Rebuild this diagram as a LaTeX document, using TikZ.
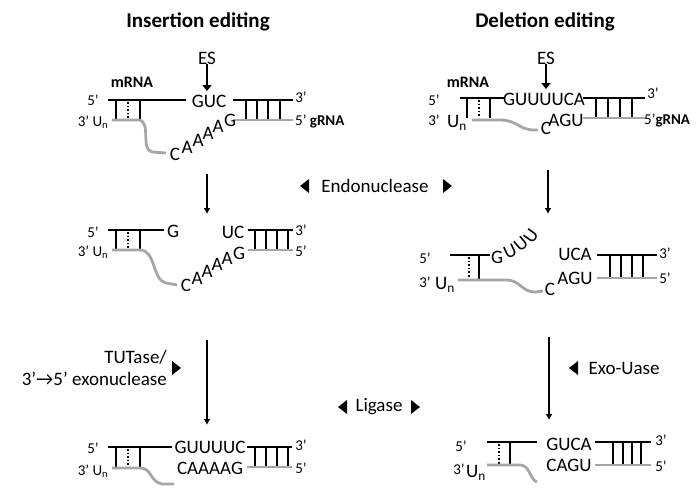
\documentclass[tikz,border=0pt]{standalone}
\usepackage{fontspec}
\setmainfont{Carlito}
\usetikzlibrary{arrows.meta}
\begin{document}
\begin{tikzpicture}[x=1pt,y=-1pt,
  bk/.style={line width=2.6pt,black},
  gr/.style={line width=2.8pt,gray!70},
  rung/.style={line width=1.8pt,black},
  dt/.style={line width=1.6pt,dotted},
  lb/.style={font=\fontsize{19}{19}\selectfont,inner sep=0pt},
  pr/.style={font=\fontsize{15}{15}\selectfont,inner sep=0pt},
  bold/.style={font=\fontsize{16}{16}\selectfont\bfseries,inner sep=0pt},
  ttl/.style={font=\fontsize{21}{21}\selectfont\bfseries},
  mainarr/.style={line width=2.4pt,-{Latex[length=6pt,width=7pt]}},
  esarr/.style={line width=2.4pt,-{Triangle[length=6pt,width=9pt]}}]
\useasboundingbox (0,0) rectangle (700,493);
\node[ttl] (t1) at (198,22) {Insertion editing};
\node[ttl] (t2) at (545,22) {Deletion editing};
% ---------- top left
\node[lb] (es1) at (207,58) {ES};
\coordinate (es1b) at (207,91);
\draw[esarr] (es1.south) -- (es1b);
\node[bold] (m1) at (132,82) {mRNA};
\node[pr] at (93,100) {5’};
\draw[bk] (108,100) -- (186,100);
\node[lb] (guc) at (209,101) {GUC};
\draw[bk] (233,100) -- (293,100);
\node[pr] at (301,97) {3’};
\foreach \x in {116,140} \draw[rung] (\x,100) -- (\x,120);
\draw[dt] (128,102) -- (128,120);
\foreach \x in {246,257,268,280} \draw[rung] (\x,100) -- (\x,120);
\draw[gr] (233,120) -- (293,120);
\node[pr,anchor=west] at (295,121) {5’ \textbf{gRNA}};
\node[pr] at (93,122) {3’ U\textsubscript{n}};
\draw[gr] (112,120) -- (138,120) .. controls (152,120) and (140,150) .. (152,152) -- (166,153);
\node[lb] at (175,154) {C};
\node[lb] at (187,147) {A};
\node[lb] at (198,140) {A};
\node[lb] at (208,133) {A};
\node[lb] at (218,126) {A};
\node[lb] at (230,120) {G};
% arrows and Endonuclease
\coordinate (a1s) at (207,174); \coordinate (a1e) at (207,214);
\draw[mainarr] (a1s) -- (a1e);
\coordinate (a2s) at (548,170); \coordinate (a2e) at (548,214);
\draw[mainarr] (a2s) -- (a2e);
\node[lb] (endo) at (375,186) {Endonuclease};
\fill (300,186) -- (309,179) -- (309,193) -- cycle;
\fill (452,186) -- (443,179) -- (443,193) -- cycle;
% ---------- top right
\node[lb] (es2) at (546,58) {ES};
\coordinate (es2b) at (546,89);
\draw[esarr] (es2.south) -- (es2b);
\node[bold] at (468,82) {mRNA};
\node[pr] at (434,100) {5’};
\draw[bk] (460,98) -- (505,98);
\node[lb] at (544,99) {GUUUUCA};
\draw[bk] (583,98) -- (645,98);
\node[pr] at (653,93) {3’};
\foreach \x in {467,490} \draw[rung] (\x,98) -- (\x,118);
\draw[dt] (479,100) -- (479,118);
\foreach \x in {596,608,620,632} \draw[rung] (\x,98) -- (\x,118);
\draw[gr] (583,118) -- (645,118);
\node[pr,anchor=west] at (644,120) {5’\textbf{gRNA}};
\node[pr] at (434,120) {3’};
\node[lb] at (457,123) {U\textsubscript{n}};
\draw[gr] (472,120) -- (500,120) .. controls (518,120) and (518,130) .. (535,130) -- (538,130);
\node[lb] at (546,128) {C};
\node[lb] at (566,120) {AGU};
% ---------- middle left
\node[pr] at (93,232) {5’};
\draw[bk] (108,230) -- (164,230);
\node[lb] at (173,231) {G};
\foreach \x in {116,140} \draw[rung] (\x,230) -- (\x,250);
\draw[dt] (128,232) -- (128,250);
\node[pr] at (93,252) {3’ U\textsubscript{n}};
\draw[gr] (112,250) -- (140,250) .. controls (156,250) and (152,280) .. (166,283) -- (177,285);
\node[lb] at (186,285) {C};
\node[lb] at (197,278) {A};
\node[lb] at (207,271) {A};
\node[lb] at (217,264) {A};
\node[lb] at (227,258) {A};
\node[lb] at (239,253) {G};
\node[lb] at (233,232) {UC};
\draw[bk] (248,230) -- (293,230);
\node[pr] at (301,230) {3’};
\foreach \x in {255,266,277,288} \draw[rung] (\x,230) -- (\x,250);
\draw[gr] (248,250) -- (293,250);
\node[pr] at (301,251) {5’};
% ---------- middle right
\node[pr] at (425,258) {5’};
\draw[bk] (450,255) -- (490,255);
\draw[rung] (479,255) -- (479,280);
\draw[dt] (469,257) -- (469,280);
\node[lb] at (497,257) {G};
\node[lb,rotate=25] at (510,251) {U};
\node[lb,rotate=40] at (521,244) {U};
\node[lb,rotate=55] at (531,236) {U};
\node[pr] at (425,282) {3’};
\node[lb] at (445,285) {U\textsubscript{n}};
\draw[gr] (458,280) -- (505,280) .. controls (522,280) and (520,292) .. (536,292) -- (543,291);
\node[lb] at (550,289) {C};
\node[lb] at (575,254) {UCA};
\draw[bk] (597,255) -- (657,255);
\node[pr] at (665,253) {3’};
\foreach \x in {610,621,632,643} \draw[rung] (\x,255) -- (\x,278);
\draw[gr] (597,278) -- (657,278);
\node[lb] at (575,278) {AGU};
\node[pr] at (665,278) {5’};
% ---------- lower arrows
\coordinate (a3s) at (207,340); \coordinate (a3e) at (207,425);
\draw[mainarr] (a3s) -- (a3e);
\coordinate (a4s) at (549,337); \coordinate (a4e) at (549,420);
\draw[mainarr] (a4s) -- (a4e);
\node[lb,anchor=east] (tut) at (167,357) {TUTase/};
\node[lb,anchor=east] (exo) at (167,379) {3’→5’ exonuclease};
\fill (181,368) -- (172,361) -- (172,375) -- cycle;
\node[lb] (eu) at (624,368) {Exo-Uase};
\fill (569,368) -- (578,361) -- (578,375) -- cycle;
\node[lb] (lig) at (379,407) {Ligase};
\fill (338,407) -- (347,400) -- (347,414) -- cycle;
\fill (420,407) -- (411,400) -- (411,414) -- cycle;
% ---------- bottom left
\node[pr] at (93,448) {5’};
\draw[bk] (108,447) -- (172,447);
\foreach \x in {116,140} \draw[rung] (\x,447) -- (\x,467);
\draw[dt] (128,449) -- (128,467);
\node[lb] at (210,447) {GUUUUC};
\node[lb] at (210,468) {CAAAAG};
\draw[bk] (247,447) -- (292,447);
\node[pr] at (301,445) {3’};
\foreach \x in {255,266,277,288} \draw[rung] (\x,447) -- (\x,467);
\draw[gr] (247,467) -- (292,467);
\node[pr] at (301,468) {5’};
\node[pr] at (93,471) {3’ U\textsubscript{n}};
\draw[gr] (112,468) -- (140,468) .. controls (152,468) and (150,482) .. (162,484) -- (174,484);
% ---------- bottom right
\node[pr] at (461,446) {5’};
\draw[bk] (487,442) -- (537,442);
\draw[rung] (510,442) -- (510,465);
\draw[dt] (499,444) -- (499,465);
\node[lb] at (569,444) {GUCA};
\node[lb] at (569,465) {CAGU};
\draw[bk] (595,442) -- (651,442);
\node[pr] at (661,440) {3’};
\foreach \x in {613,623,632,641} \draw[rung] (\x,442) -- (\x,465);
\draw[gr] (595,465) -- (651,465);
\node[pr] at (661,466) {5’};
\node[pr] at (459,469) {3’};
\node[lb] at (476,473) {U\textsubscript{n}};
\draw[gr] (487,465) -- (520,465) .. controls (530,465) and (530,480) .. (537,482);
\end{tikzpicture}
\end{document}
